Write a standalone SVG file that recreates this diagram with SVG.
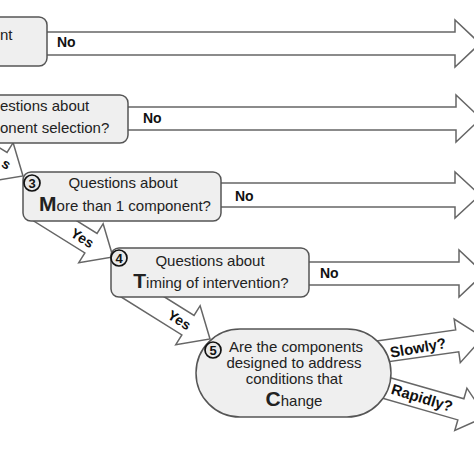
<svg xmlns="http://www.w3.org/2000/svg" width="474" height="474" viewBox="0 0 474 474">
<style>
.arr{fill:#ffffff;stroke:#666666;stroke-width:1.5;stroke-linejoin:miter}
.box{fill:#efefef;stroke:#555555;stroke-width:1.5}
.t{font-family:"Liberation Sans",Arial,sans-serif;font-size:15px;fill:#222222}
.lbl{font-family:"Liberation Sans",Arial,sans-serif;font-size:14px;font-weight:bold;fill:#111111}
.big{font-size:21px;font-weight:bold}
.num{fill:#e8e8e8;stroke:#111111;stroke-width:1.7}
.numt{font-family:"Liberation Sans",Arial,sans-serif;font-size:13px;font-weight:bold;fill:#111111}
</style>
<rect width="474" height="474" fill="#ffffff"/>
<g id="connectors">
  <polygon class="arr" points="40,32 455,32 455,20 480,43.5 455,67 455,55 40,55"/>
  <polygon class="arr" points="120,107 456,107 456,95 481,118.5 456,142 456,130 120,130"/>
  <polygon class="arr" points="215,183 455,183 455,172 480,195 455,218 455,207 215,207"/>
  <polygon class="arr" points="300,262 459,262 459,250 484,273.5 459,297 459,285 300,285"/>
  <polygon class="arr" transform="translate(23,176) rotate(32)" points="-85,-11.5 -26,-11.5 -26,-23 0,0 -26,23 -26,11.5 -85,11.5"/>
  <polygon class="arr" transform="translate(113,257) rotate(32)" points="-90,-11.5 -26,-11.5 -26,-23 0,0 -26,23 -26,11.5 -90,11.5"/>
  <polygon class="arr" transform="translate(210,339) rotate(32)" points="-100,-11.5 -26,-11.5 -26,-23 0,0 -26,23 -26,11.5 -100,11.5"/>
  <polygon class="arr" transform="translate(378,352) rotate(-8)" points="0,-11 80,-11 80,-22 106,0 80,22 80,11 0,11"/>
  <polygon class="arr" transform="translate(383,387) rotate(16)" points="0,-11 81,-11 81,-22 107,0 81,22 81,11 0,11"/>
  <text class="lbl" x="57" y="47">No</text>
  <text class="lbl" x="143" y="123">No</text>
  <text class="lbl" x="235" y="201">No</text>
  <text class="lbl" x="320" y="278">No</text>
  <text class="lbl" transform="translate(0.5,166) rotate(32)" x="0" y="0">s</text>
  <text class="lbl" transform="translate(113,257) rotate(32)" x="-36" y="5" text-anchor="middle">Yes</text>
  <text class="lbl" transform="translate(210,339) rotate(32)" x="-36" y="5" text-anchor="middle">Yes</text>
  <text class="lbl" style="font-size:15px" transform="translate(418,348) rotate(-10)" x="0" y="5" text-anchor="middle">Slowly?</text>
  <text class="lbl" style="font-size:15px" transform="translate(422,398) rotate(17)" x="0" y="5" text-anchor="middle">Rapidly?</text>
</g>
<g id="node1">
  <rect class="box" x="-60" y="17" width="107" height="49" rx="8"/>
  <text class="t" x="0" y="40">nt</text>
</g>
<g id="node2">
  <rect class="box" x="-90" y="95" width="218" height="48" rx="8"/>
  <text class="t" x="0" y="111">estions about</text>
  <text class="t" x="0" y="133">onent selection?</text>
</g>
<g id="node3">
  <rect class="box" x="23" y="172" width="198" height="49" rx="8"/>
  <circle class="num" cx="32" cy="183" r="8"/>
  <text class="numt" x="32" y="187.5" text-anchor="middle">3</text>
  <text class="t" x="123" y="188" text-anchor="middle">Questions about</text>
  <text class="t" x="125" y="211" text-anchor="middle"><tspan class="big">M</tspan>ore than 1 component?</text>
</g>
<g id="node4">
  <rect class="box" x="111" y="248" width="198" height="49" rx="8"/>
  <circle class="num" cx="119" cy="258" r="8"/>
  <text class="numt" x="119" y="262.5" text-anchor="middle">4</text>
  <text class="t" x="210" y="266" text-anchor="middle">Questions about</text>
  <text class="t" x="211" y="288" text-anchor="middle"><tspan class="big">T</tspan>iming of intervention?</text>
</g>
<g id="node5">
  <rect class="box" x="196" y="329" width="195" height="88" rx="44"/>
  <circle class="num" cx="213" cy="350" r="8"/>
  <text class="numt" x="213" y="354.5" text-anchor="middle">5</text>
  <text class="t" x="296" y="352" text-anchor="middle">Are the components</text>
  <text class="t" x="294" y="368" text-anchor="middle">designed to address</text>
  <text class="t" x="294" y="384" text-anchor="middle">conditions that</text>
  <text class="t" x="294" y="406" text-anchor="middle"><tspan style="font-size:21px;font-weight:bold">C</tspan>hange</text>
</g>
</svg>
